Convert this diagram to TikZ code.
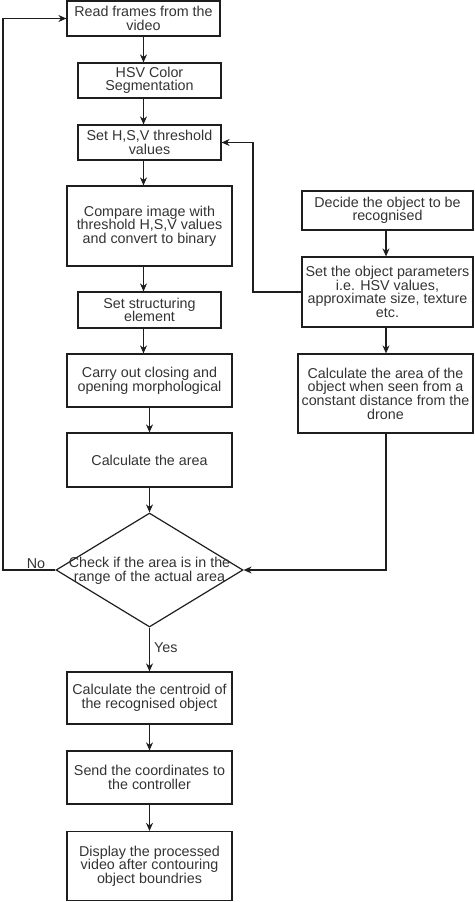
\documentclass[tikz,border=0pt]{standalone}
\usepackage{fontspec}
\setmainfont{Liberation Sans}
\usetikzlibrary{shapes.geometric,arrows.meta}
\definecolor{txt}{HTML}{333333}
\definecolor{ln}{HTML}{1E1E1E}
\begin{document}
\begin{tikzpicture}[x=1pt,y=-1pt,
  box/.style={draw=ln,line width=1.2pt,rectangle,inner sep=0pt,align=center,text=txt,
    font=\fontsize{14.3}{13.6}\selectfont},
  arr/.style={draw=ln,line width=1.2pt,-{Stealth[length=8pt,width=7pt]}},
  ln/.style={draw=ln,line width=1.2pt},
  lbl/.style={text=txt,font=\fontsize{14.3}{13.6}\selectfont,inner sep=0pt}]
\useasboundingbox (0,0) rectangle (474,902);
% left column
\node[box,minimum width=153pt,minimum height=35pt] (b1) at (143.5,18.5) {Read frames from the\\video};
\node[box,minimum width=143pt,minimum height=35pt] (b2) at (149.5,80.5) {HSV Color\\Segmentation};
\node[box,minimum width=143pt,minimum height=35pt] (b3) at (149.5,142.5) {Set H,S,V threshold\\values};
\node[box,minimum width=165pt,minimum height=80pt] (b4) at (149.5,226) {Compare image with\\threshold H,S,V values\\and convert to binary};
\node[box,minimum width=143pt,minimum height=36pt] (b5) at (149.5,310) {Set structuring\\element};
\node[box,minimum width=165pt,minimum height=53pt] (b6) at (149.5,380.5) {Carry out closing and\\opening morphological};
\node[box,minimum width=165pt,minimum height=54pt] (b7) at (149.5,460) {Calculate the area};
\node[draw=ln,line width=1.2pt,diamond,minimum width=187pt,minimum height=114pt,inner sep=0pt] (d) at (149.5,570) {};
\node[lbl,align=center] (dt) at (149.5,571) {Check if the area is in the\\range of the actual area};
\node[box,minimum width=165pt,minimum height=52pt] (b8) at (149.5,698) {Calculate the centroid of\\the recognised object};
\node[box,minimum width=165pt,minimum height=53pt] (b9) at (149.5,777.5) {Send the coordinates to\\the controller};
\node[box,minimum width=165pt,minimum height=69pt] (b10) at (149.5,866) {Display the processed\\video after contouring\\object boundries};
% right column
\node[box,minimum width=171pt,minimum height=39pt] (r1) at (387.5,210.5) {Decide the object to be\\recognised};
\node[box,minimum width=171pt,minimum height=70pt] (r2) at (387.5,292) {Set the object parameters\\i.e. HSV values,\\approximate size, texture\\etc.};
\node[box,minimum width=175pt,minimum height=79pt] (r3) at (385.5,393.5) {Calculate the area of the\\object when seen from a\\constant distance from the\\drone};
% coordinates
\coordinate (fb) at (253,292);
\coordinate (nl) at (3,570);
\coordinate (rc) at (386,570);
% connectors
\draw[arr] (b1.south) -- (b2.north -| b1.south);
\draw[arr] (b2.south -| b1.south) -- (b3.north -| b1.south);
\draw[arr] (b3.south -| b1.south) -- (b4.north -| b1.south);
\draw[arr] (b4.south -| b1.south) -- (b5.north -| b1.south);
\draw[arr] (b5.south -| b1.south) -- (b6.north -| b1.south);
\draw[arr] (b6.south) -- (b7.north);
\draw[arr] (b7.south) -- (d.north);
\draw[arr] (d.south) -- node[lbl,right=4pt,pos=0.45] {Yes} (b8.north);
\draw[arr] (b8.south) -- (b9.north);
\draw[arr] (b9.south) -- (b10.north);
\draw[arr] (r1.south -| rc) -- (r2.north -| rc);
\draw[arr] (r2.south -| rc) -- (r3.north -| rc);
\draw[arr] (r3.south -| rc) -- (rc) -- (d.east);
\draw[arr] (r2.west |- fb) -- (fb) -- (fb |- b3.east) -- (b3.east);
\draw[arr] (d.west) -- (nl) -- (nl |- b1.west) -- (b1.west);
\node[lbl,anchor=south] (no) at (36,569) {No};
\end{tikzpicture}
\end{document}
